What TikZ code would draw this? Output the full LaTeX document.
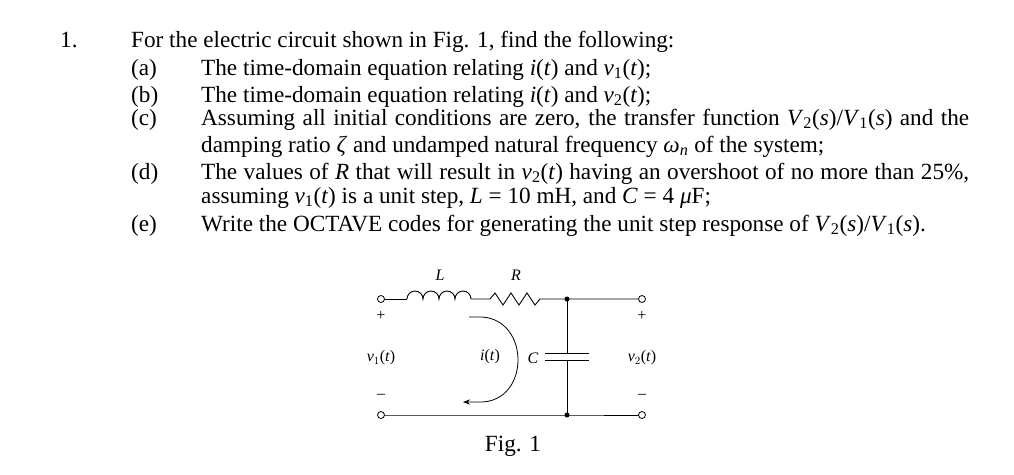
\documentclass[tikz,border=0pt]{standalone}
\usepackage{fontspec}
\setmainfont{Liberation Serif}
\usetikzlibrary{arrows.meta}
\begin{document}
\begin{tikzpicture}[x=1pt,y=-1pt,
  txt/.style={anchor=base west,inner sep=0pt,font=\fontsize{23.2}{27}\selectfont},
  lbl/.style={inner sep=0pt,font=\fontsize{16}{19}\selectfont},
  wire/.style={line width=0.9pt},
  term/.style={circle,draw,line width=0.8pt,fill=white,minimum size=7pt,inner sep=0pt},
  dot/.style={circle,fill,minimum size=5pt,inner sep=0pt}]
\useasboundingbox (0,0) rectangle (1014,474);
\newcommand{\vv}[1]{\textit{v}\textsubscript{#1}(\textit{t})}
\newcommand{\Vs}[1]{\textit{V}\textsubscript{#1}(\textit{s})}
\node[txt] (n1) at (60,47) {1.};
\node[txt] (t0) at (131,47) {For the electric circuit shown in Fig. 1, find the following:};
\node[txt] (la) at (131,75) {(a)};
\node[txt] (ta) at (201,75) {The time-domain equation relating \textit{i}(\textit{t}) and \vv{1};};
\node[txt] (lb) at (131,102) {(b)};
\node[txt] (tb) at (201,102) {The time-domain equation relating \textit{i}(\textit{t}) and \vv{2};};
\node[txt] (lc) at (131,125) {(c)};
\node[txt] (tc) at (201,125) {\makebox[768pt][s]{Assuming all initial conditions are zero, the transfer function \Vs{2}/\Vs{1} and the}};
\node[txt] (tc2) at (201,152) {damping ratio \textit{ζ} and undamped natural frequency \textit{ω}\textsubscript{\textit{n}} of the system;};
\node[txt] (ld) at (131,179) {(d)};
\node[txt] (td) at (201,179) {\makebox[768pt][s]{The values of \textit{R} that will result in \vv{2} having an overshoot of no more than 25\%,}};
\node[txt] (td2) at (201,203) {assuming \vv{1} is a unit step, \textit{L} = 10 mH, and \textit{C} = 4 \textit{μ}F;};
\node[txt] (le) at (131,231) {(e)};
\node[txt] (te) at (201,231) {Write the OCTAVE codes for generating the unit step response of \Vs{2}/\Vs{1}.};

% circuit
\coordinate (a) at (381,299);
\coordinate (l1) at (407,299);
\coordinate (l2) at (471,299);
\coordinate (r1) at (490,299);
\coordinate (r2) at (542,299);
\coordinate (n) at (567,299);
\coordinate (b) at (642,299);
\coordinate (a2) at (381,415);
\coordinate (m) at (567,415);
\coordinate (b2) at (642,415);
\draw[wire] (a) -- (l1);
\draw[wire] (l1) arc(180:360:8) arc(180:360:8) arc(180:360:8) arc(180:360:8);
\draw[wire] (l2) -- (r1) -- ++(5,-6) -- ++(8,12) -- ++(8,-12) -- ++(8,12) -- ++(8,-12) -- ++(8,12) -- ++(5,-6) -- (r2) -- (n) -- (b);
\draw[wire] (a2) -- (m) -- (b2);
\draw[wire] (n) -- (567,353) (545,353) -- (589,353) (545,360) -- (589,360) (567,360) -- (m);
\node[dot] (dn) at (n) {};
\node[dot] (dm) at (m) {};
\node[term] (ta1) at (a) {};
\node[term] (ta2) at (a2) {};
\node[term] (tb1) at (b) {};
\node[term] (tb2) at (b2) {};
\node[lbl] (Ll) at (440,275) {\textit{L}};
\node[lbl] (Rl) at (516,275) {\textit{R}};
\node[lbl] (p1) at (381,316) {+};
\node[lbl] (p2) at (642,316) {+};
\node[lbl] (m1) at (381,396) {\textendash};
\node[lbl] (m2) at (642,396) {\textendash};
\node[lbl] (v1) at (381,358) {\textit{v}$_1$(\textit{t})};
\node[lbl] (v2) at (642,358) {\textit{v}$_2$(\textit{t})};
\node[lbl] (il) at (490,357) {\textit{i}(\textit{t})};
\node[lbl] (Cl) at (533,358) {\textit{C}};
\draw[line width=0.8pt,-{Stealth[length=7pt]}] (469,317) -- (482,317) .. controls (530,320) and (530,400) .. (482,402) -- (463,402);
\node[txt,anchor=base] (fig) at (513,451) {Fig. 1};
\end{tikzpicture}
\end{document}
